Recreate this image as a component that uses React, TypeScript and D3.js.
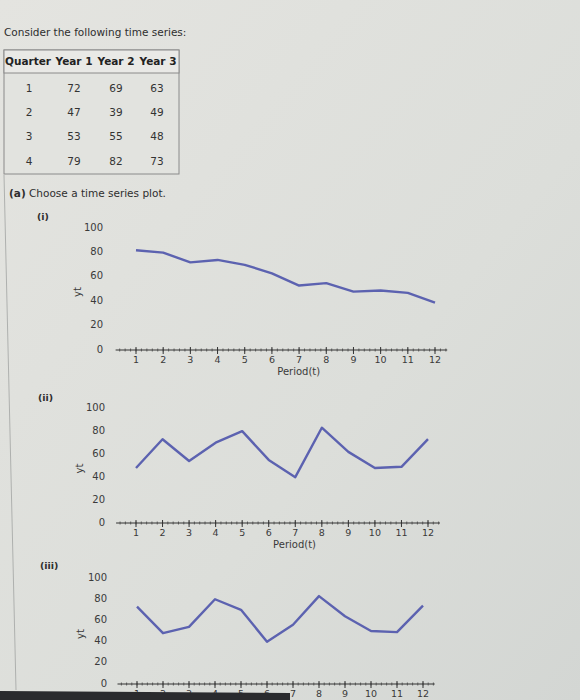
import React from "react";
import * as d3 from "d3";

// --- Data ---
const quarters = ["1", "2", "3", "4"];
const yearLabels = ["Year 1", "Year 2", "Year 3"];
const year1 = [72, 47, 53, 79];
const year2 = [69, 39, 55, 82];
const year3 = [63, 49, 48, 73];

const periods = [1, 2, 3, 4, 5, 6, 7, 8, 9, 10, 11, 12];
const plotI = [81, 79, 71, 73, 69, 62, 52, 54, 47, 48, 46, 38];
const plotII = [47, 72, 53, 69, 79, 54, 39, 82, 61, 47, 48, 72];
const plotIII = [72, 47, 53, 79, 69, 39, 55, 82, 63, 49, 48, 73];
const yTicks = [0, 20, 40, 60, 80, 100];

const FONT = "'DejaVu Sans', Verdana, sans-serif";
const INK = "#2e2e2e";
const LINE = "#5c62b0";

interface PlotProps {
  label: string;
  labelX: number;
  labelY: number;
  values: number[];
  y0: number; // pixel of value 0
  y100: number; // pixel of value 100
  x1: number; // pixel of period 1
  x12: number; // pixel of period 12
  yLabelX: number;
  ytX: number;
  showPeriod: boolean;
}

const Plot: React.FC<PlotProps> = ({
  label,
  labelX,
  labelY,
  values,
  y0,
  y100,
  x1,
  x12,
  yLabelX,
  ytX,
  showPeriod,
}) => {
  const x = d3.scaleLinear().domain([1, 12]).range([x1, x12]);
  const y = d3.scaleLinear().domain([0, 100]).range([y0, y100]);
  const axisY = y(0) + 1;
  const minor = d3.range(0.4, 12.45, 0.2);
  const path = d3
    .line<number>()
    .x((_, i) => x(periods[i]))
    .y((d) => y(d))(values);

  return (
    <g fontFamily={FONT}>
      <text x={labelX} y={labelY} fontSize={9.5} fontWeight="bold" fill={INK}>
        {label}
      </text>
      {yTicks.map((t) => (
        <text
          key={t}
          x={yLabelX}
          y={y(t)}
          dy="0.35em"
          textAnchor="end"
          fontSize={10}
          fill="#3a3a3a"
        >
          {t}
        </text>
      ))}
      <text
        transform={`translate(${ytX},${(y(0) + y(100)) / 2 + 4}) rotate(-90)`}
        textAnchor="middle"
        fontSize={10}
        fill="#3a3a3a"
      >
        yt
      </text>
      <line
        x1={x(0.25)}
        x2={x(12.45)}
        y1={axisY}
        y2={axisY}
        stroke="#333"
        strokeWidth={1}
      />
      {minor.map((m) => (
        <line
          key={m}
          x1={x(m)}
          x2={x(m)}
          y1={axisY - 1.5}
          y2={axisY + 1.5}
          stroke="#444"
          strokeWidth={0.8}
        />
      ))}
      {periods.map((p) => (
        <g key={p}>
          <line
            x1={x(p)}
            x2={x(p)}
            y1={axisY - 3}
            y2={axisY + 4}
            stroke="#333"
            strokeWidth={1}
          />
          <text
            x={x(p)}
            y={axisY + 13}
            textAnchor="middle"
            fontSize={9.5}
            fill="#3a3a3a"
          >
            {p}
          </text>
        </g>
      ))}
      {showPeriod && (
        <text
          x={(x(6) + x(9)) / 2 - 14}
          y={axisY + 25}
          textAnchor="middle"
          fontSize={10}
          fill="#3a3a3a"
        >
          Period(t)
        </text>
      )}
      <path
        d={path ?? ""}
        fill="none"
        stroke={LINE}
        strokeWidth={2.4}
        strokeLinejoin="round"
      />
    </g>
  );
};

const App: React.FC = () => {
  const width = 580;
  const height = 700;

  // table layout
  const tLeft = 4;
  const tRight = 179;
  const tTop = 50;
  const headBottom = 73;
  const tBottom = 174;
  const colX = [29, 74, 116, 157];
  const headX = [28, 74, 116, 158];
  const row = d3
    .scaleBand()
    .domain(quarters)
    .range([headBottom + 3, tBottom - 1]);
  const yearCols = [year1, year2, year3];

  return (
    <svg
      width={width}
      height={height}
      style={{ position: "absolute", left: 0, top: 0, display: "block" }}
    >
      <defs>
        <linearGradient id="bg" x1="0" y1="0" x2="1" y2="1">
          <stop offset="0%" stopColor="#e4e4e0" />
          <stop offset="60%" stopColor="#dcdeda" />
          <stop offset="100%" stopColor="#d3d6d3" />
        </linearGradient>
      </defs>
      <rect width={width} height={height} fill="url(#bg)" />

      <text x={4} y={36} fontFamily={FONT} fontSize={10.5} fill={INK}>
        Consider the following time series:
      </text>

      {/* table */}
      <rect
        x={tLeft}
        y={tTop}
        width={tRight - tLeft}
        height={tBottom - tTop}
        fill="#e2e3df"
        stroke="#8a8a8a"
        strokeWidth={1}
      />
      <rect
        x={tLeft}
        y={tTop}
        width={tRight - tLeft}
        height={headBottom - tTop}
        fill="#e9e9e6"
        stroke="#8a8a8a"
        strokeWidth={1}
      />
      {["Quarter", ...yearLabels].map((h, i) => (
        <text
          key={h}
          x={headX[i]}
          y={(tTop + headBottom) / 2}
          dy="0.35em"
          textAnchor="middle"
          fontFamily={FONT}
          fontSize={10.5}
          fontWeight="bold"
          fill="#222"
        >
          {h}
        </text>
      ))}
      {quarters.map((q, r) => (
        <g key={q} fontFamily={FONT} fontSize={10.5} fill="#333">
          <text
            x={colX[0]}
            y={(row(q) ?? 0) + row.bandwidth() / 2}
            dy="0.35em"
            textAnchor="middle"
          >
            {q}
          </text>
          {yearCols.map((col, c) => (
            <text
              key={c}
              x={colX[c + 1]}
              y={(row(q) ?? 0) + row.bandwidth() / 2}
              dy="0.35em"
              textAnchor="middle"
            >
              {col[r]}
            </text>
          ))}
        </g>
      ))}

      <text x={9} y={197} fontFamily={FONT} fontSize={10.5} fill={INK}>
        <tspan fontWeight="bold">(a)</tspan> Choose a time series plot.
      </text>

      <Plot
        label="(i)"
        labelX={37}
        labelY={220}
        values={plotI}
        y0={349}
        y100={227}
        x1={136}
        x12={435}
        yLabelX={103}
        ytX={81}
        showPeriod
      />
      <Plot
        label="(ii)"
        labelX={38}
        labelY={401}
        values={plotII}
        y0={522}
        y100={407}
        x1={136}
        x12={428}
        yLabelX={105}
        ytX={83}
        showPeriod
      />
      <Plot
        label="(iii)"
        labelX={40}
        labelY={569}
        values={plotIII}
        y0={683}
        y100={577}
        x1={137}
        x12={423}
        yLabelX={107}
        ytX={84}
        showPeriod={false}
      />

      {/* faint container edge and the dark screen edge of the photo */}
      <line x1={4} x2={16} y1={175} y2={690} stroke="#aeb0ae" strokeWidth={1} />
      <polygon points="0,691 290,693 290,700 0,700" fill="#2a2b2e" />
    </svg>
  );
};

export default App;
